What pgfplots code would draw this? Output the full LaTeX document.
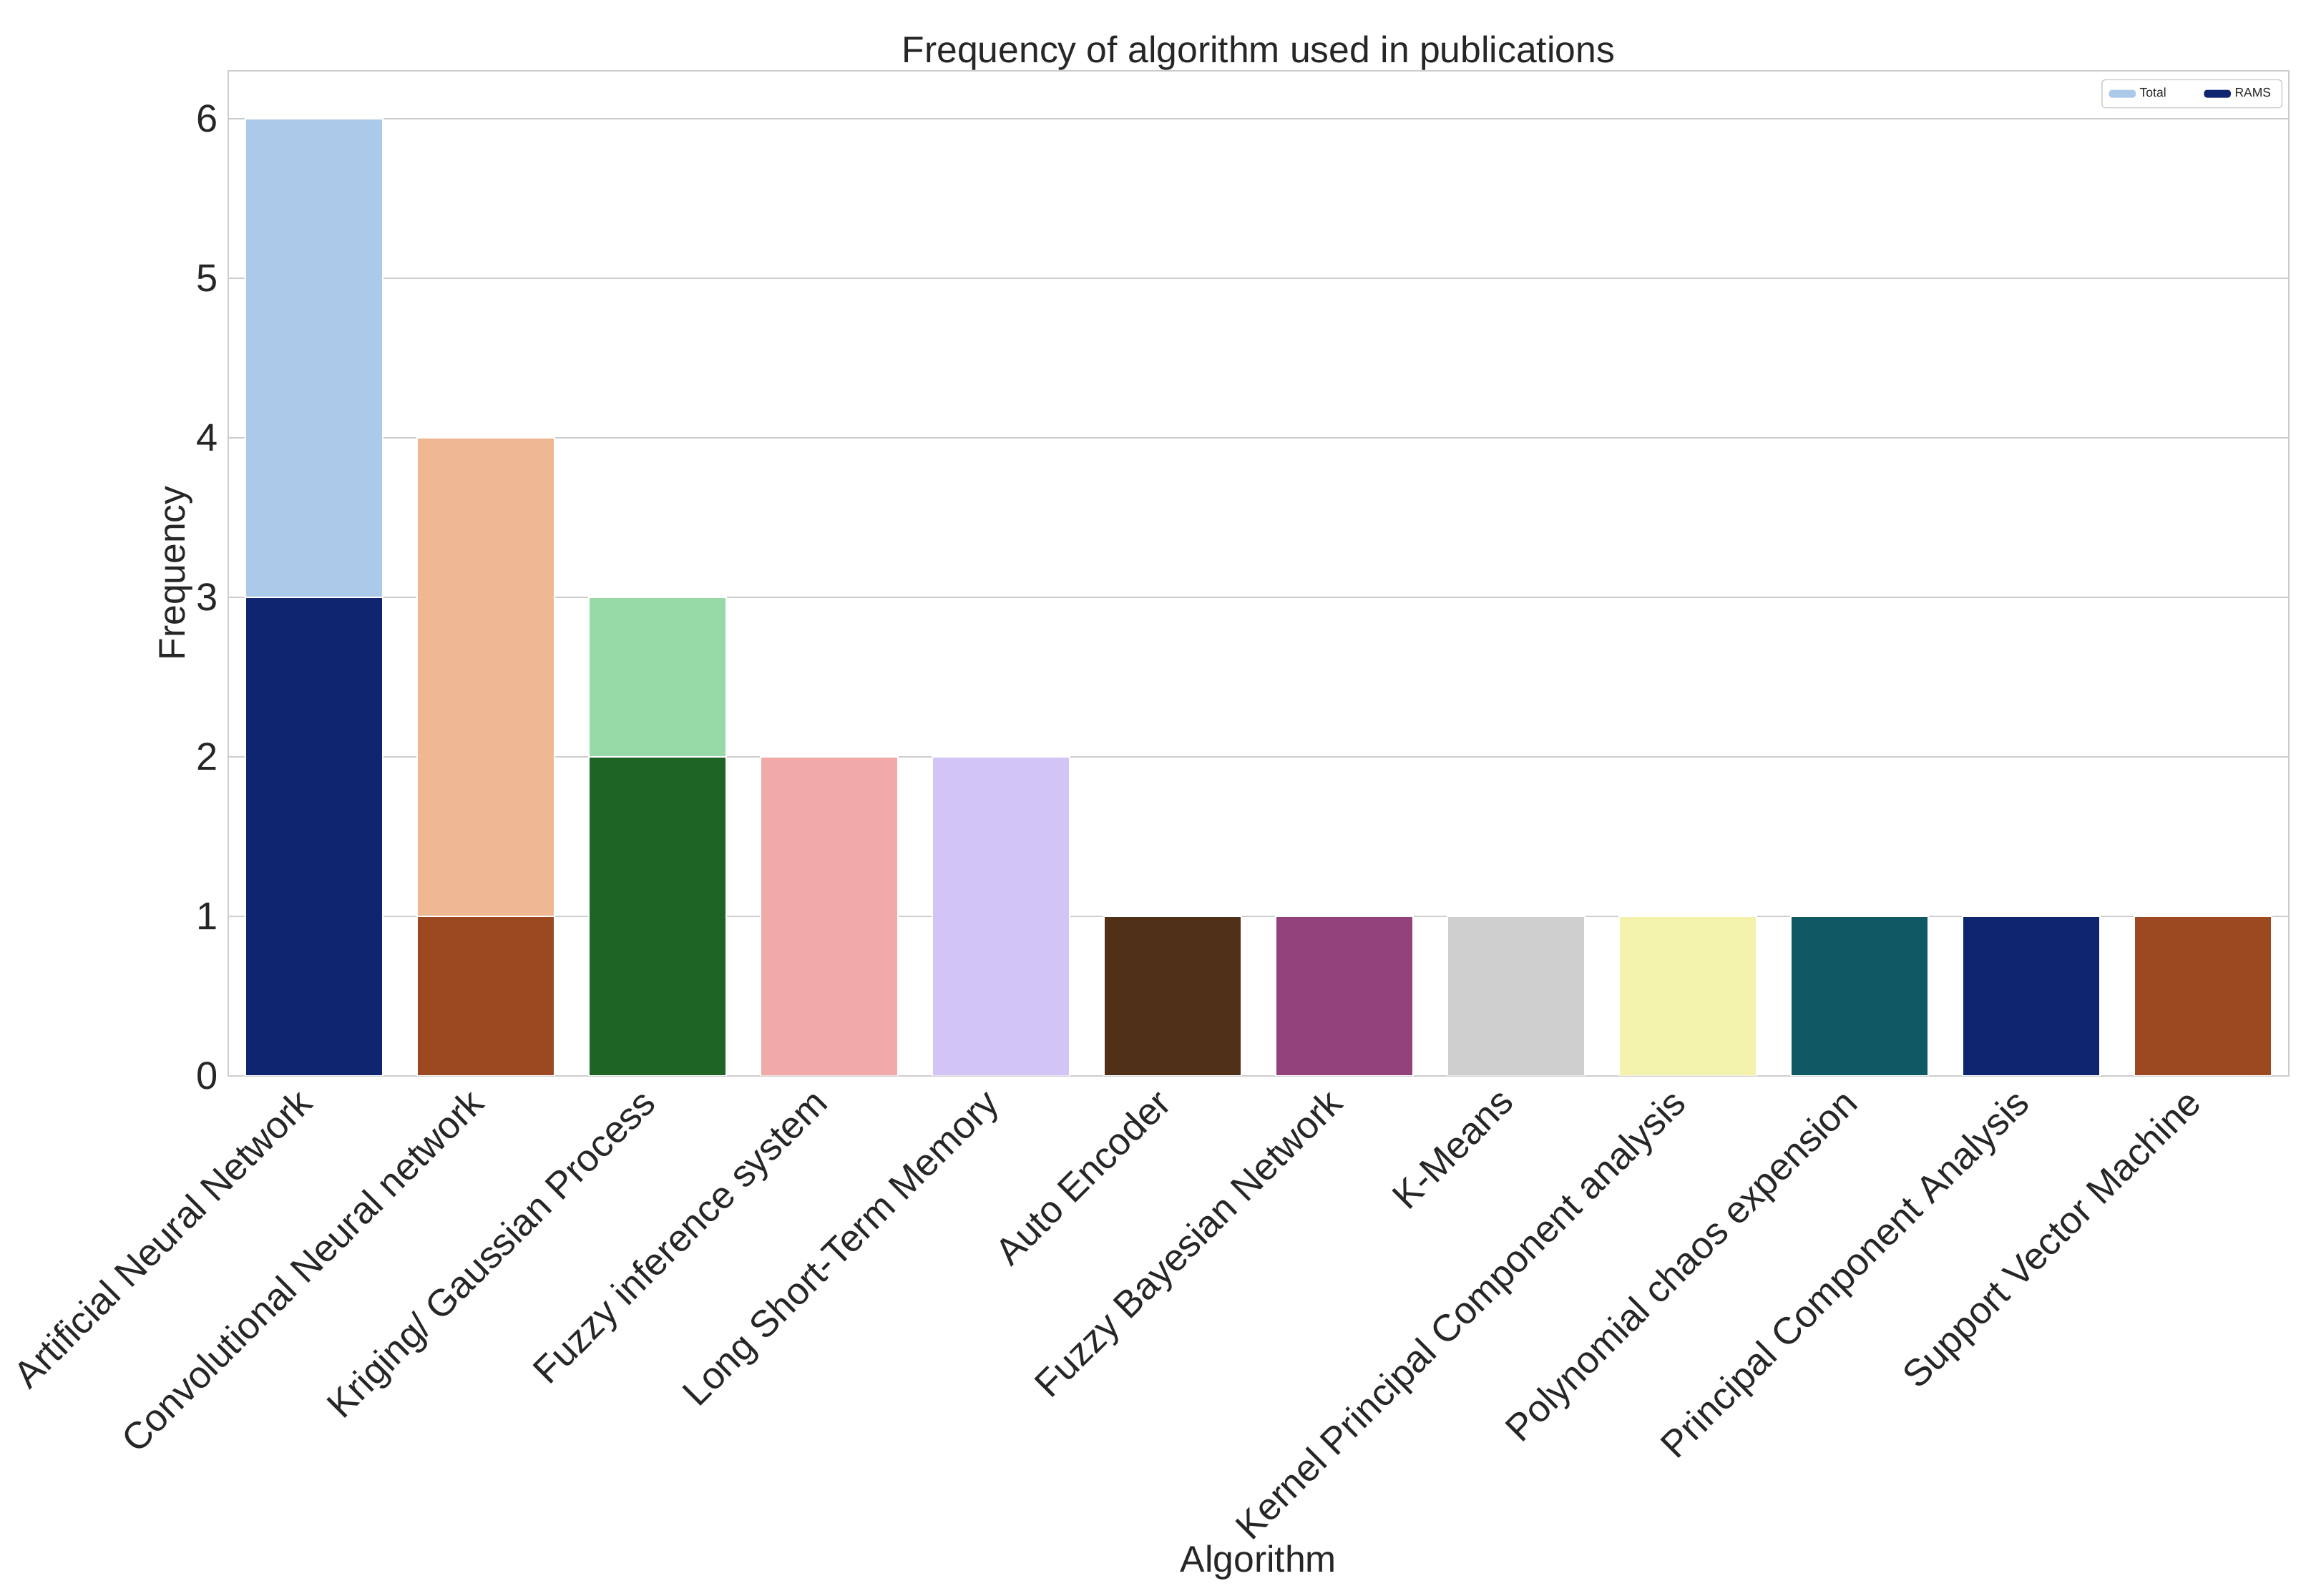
\documentclass[border=0pt]{standalone}
\usepackage{fontspec}
\setmainfont{Liberation Sans}
\usepackage{pgfplots}
\pgfplotsset{compat=1.18}
\definecolor{txt}{HTML}{262626}
\definecolor{gridc}{HTML}{CCCCCC}
\definecolor{p0}{HTML}{ABC9E9}
\definecolor{p1}{HTML}{EFB792}
\definecolor{p2}{HTML}{98DAA7}
\definecolor{p3}{HTML}{F2AAA8}
\definecolor{p4}{HTML}{D3C4F6}
\definecolor{p5}{HTML}{D6BBA3}
\definecolor{p6}{HTML}{F1B9E0}
\definecolor{p7}{HTML}{CFCFCF}
\definecolor{p8}{HTML}{F3F3AE}
\definecolor{p9}{HTML}{C0EBE9}
\definecolor{d0}{HTML}{10256F}
\definecolor{d1}{HTML}{9C4821}
\definecolor{d2}{HTML}{1E6525}
\definecolor{d3}{HTML}{7E1B12}
\definecolor{d4}{HTML}{53285F}
\definecolor{d5}{HTML}{503016}
\definecolor{d6}{HTML}{94427C}
\definecolor{d7}{HTML}{3C3C3C}
\definecolor{d8}{HTML}{A47F1D}
\definecolor{d9}{HTML}{0F5965}
\newcommand\ytickfont{\fontsize{19.5}{23}\selectfont}
\newcommand\xtickfont{\fontsize{19}{22.5}\selectfont}
\newcommand\labfont{\fontsize{18.6}{22}\selectfont}
\begin{document}
\begin{tikzpicture}
\begin{axis}[name=ax,
  width=1036.8pt, height=505.8pt, scale only axis,
  xmin=-0.5, xmax=11.5, ymin=0, ymax=6.3,
  ybar, bar width=0.8, bar shift=0pt,
  xtick={0,...,11},
  xticklabels={Artificial Neural Network,Convolutional Neural network,Kriging/ Gaussian Process,Fuzzy inference system,Long Short-Term Memory,Auto Encoder,Fuzzy Bayesian Network,K-Means,Kernel Principal Component analysis,Polynomial chaos expension,Principal Component Analysis,Support Vector Machine},
  ytick={0,1,2,3,4,5,6},
  major tick length=0pt,
  ymajorgrids, xmajorgrids=false,
  grid style={draw=gridc, line width=0.9pt},
  axis line style={draw=gridc, line width=0.9pt},
  tick label style={text=txt},
  /pgf/number format/assume math mode=true,
  xticklabel style={font=\xtickfont, inner sep=0pt, xshift=-9.5pt, yshift=-5pt, rotate=45, anchor=north east},
  yticklabel style={font=\ytickfont, inner sep=0pt, xshift=-5pt, anchor=east},
  title={Frequency of algorithm used in publications},
  title style={at={(axis description cs:0.5,1)}, anchor=south, inner sep=0pt, yshift=-5.8pt, font=\labfont, text=txt},
  xlabel={Algorithm},
  xlabel style={at={([yshift=-236pt]axis description cs:0.5,0)}, anchor=north, inner sep=0pt, font=\labfont, text=txt},
  ylabel={Frequency},
  ylabel style={at={([xshift=-17.5pt]axis description cs:0,0.5)}, anchor=south, inner sep=0pt, font=\labfont, text=txt},
  legend style={at={(axis description cs:1,1)}, anchor=north east, xshift=-3.2pt, yshift=-4.3pt,
    draw=gridc, line width=0.5pt, rounded corners=1.5pt, fill=white,
    font=\fontsize{6.3}{7.5}\selectfont, text=txt, inner xsep=3.5pt, inner ysep=2pt,
    /tikz/every even column/.append style={column sep=17pt}},
  legend columns=2,
  legend image code/.code={\fill[#1,draw=none] (0pt,-2pt) rectangle (13.5pt,2pt);},
  every axis plot/.append style={draw=white, line width=0.8pt},
]
% Total
\addplot[fill=p0] coordinates {(0,6)};
\addlegendentry{Total}
\addplot[fill=p1,forget plot] coordinates {(1,4)};
\addplot[fill=p2,forget plot] coordinates {(2,3)};
\addplot[fill=p3,forget plot] coordinates {(3,2)};
\addplot[fill=p4,forget plot] coordinates {(4,2)};
\addplot[fill=p5,forget plot] coordinates {(5,1)};
\addplot[fill=p6,forget plot] coordinates {(6,1)};
\addplot[fill=p7,forget plot] coordinates {(7,1)};
\addplot[fill=p8,forget plot] coordinates {(8,1)};
\addplot[fill=p9,forget plot] coordinates {(9,1)};
\addplot[fill=p0,forget plot] coordinates {(10,1)};
\addplot[fill=p1,forget plot] coordinates {(11,1)};
% RAMS
\addplot[fill=d0] coordinates {(0,3)};
\addlegendentry{RAMS}
\addplot[fill=d1,forget plot] coordinates {(1,1)};
\addplot[fill=d2,forget plot] coordinates {(2,2)};
\addplot[fill=d3,forget plot,draw=none] coordinates {(3,0)};
\addplot[fill=d4,forget plot,draw=none] coordinates {(4,0)};
\addplot[fill=d5,forget plot] coordinates {(5,1)};
\addplot[fill=d6,forget plot] coordinates {(6,1)};
\addplot[fill=d7,forget plot,draw=none] coordinates {(7,0)};
\addplot[fill=d8,forget plot,draw=none] coordinates {(8,0)};
\addplot[fill=d9,forget plot] coordinates {(9,1)};
\addplot[fill=d0,forget plot] coordinates {(10,1)};
\addplot[fill=d1,forget plot] coordinates {(11,1)};
\end{axis}
\path ([shift={(-114.8pt,-261.4pt)}]ax.south west) rectangle ([shift={(11.2pt,35.6pt)}]ax.north east);
\end{tikzpicture}
\end{document}
